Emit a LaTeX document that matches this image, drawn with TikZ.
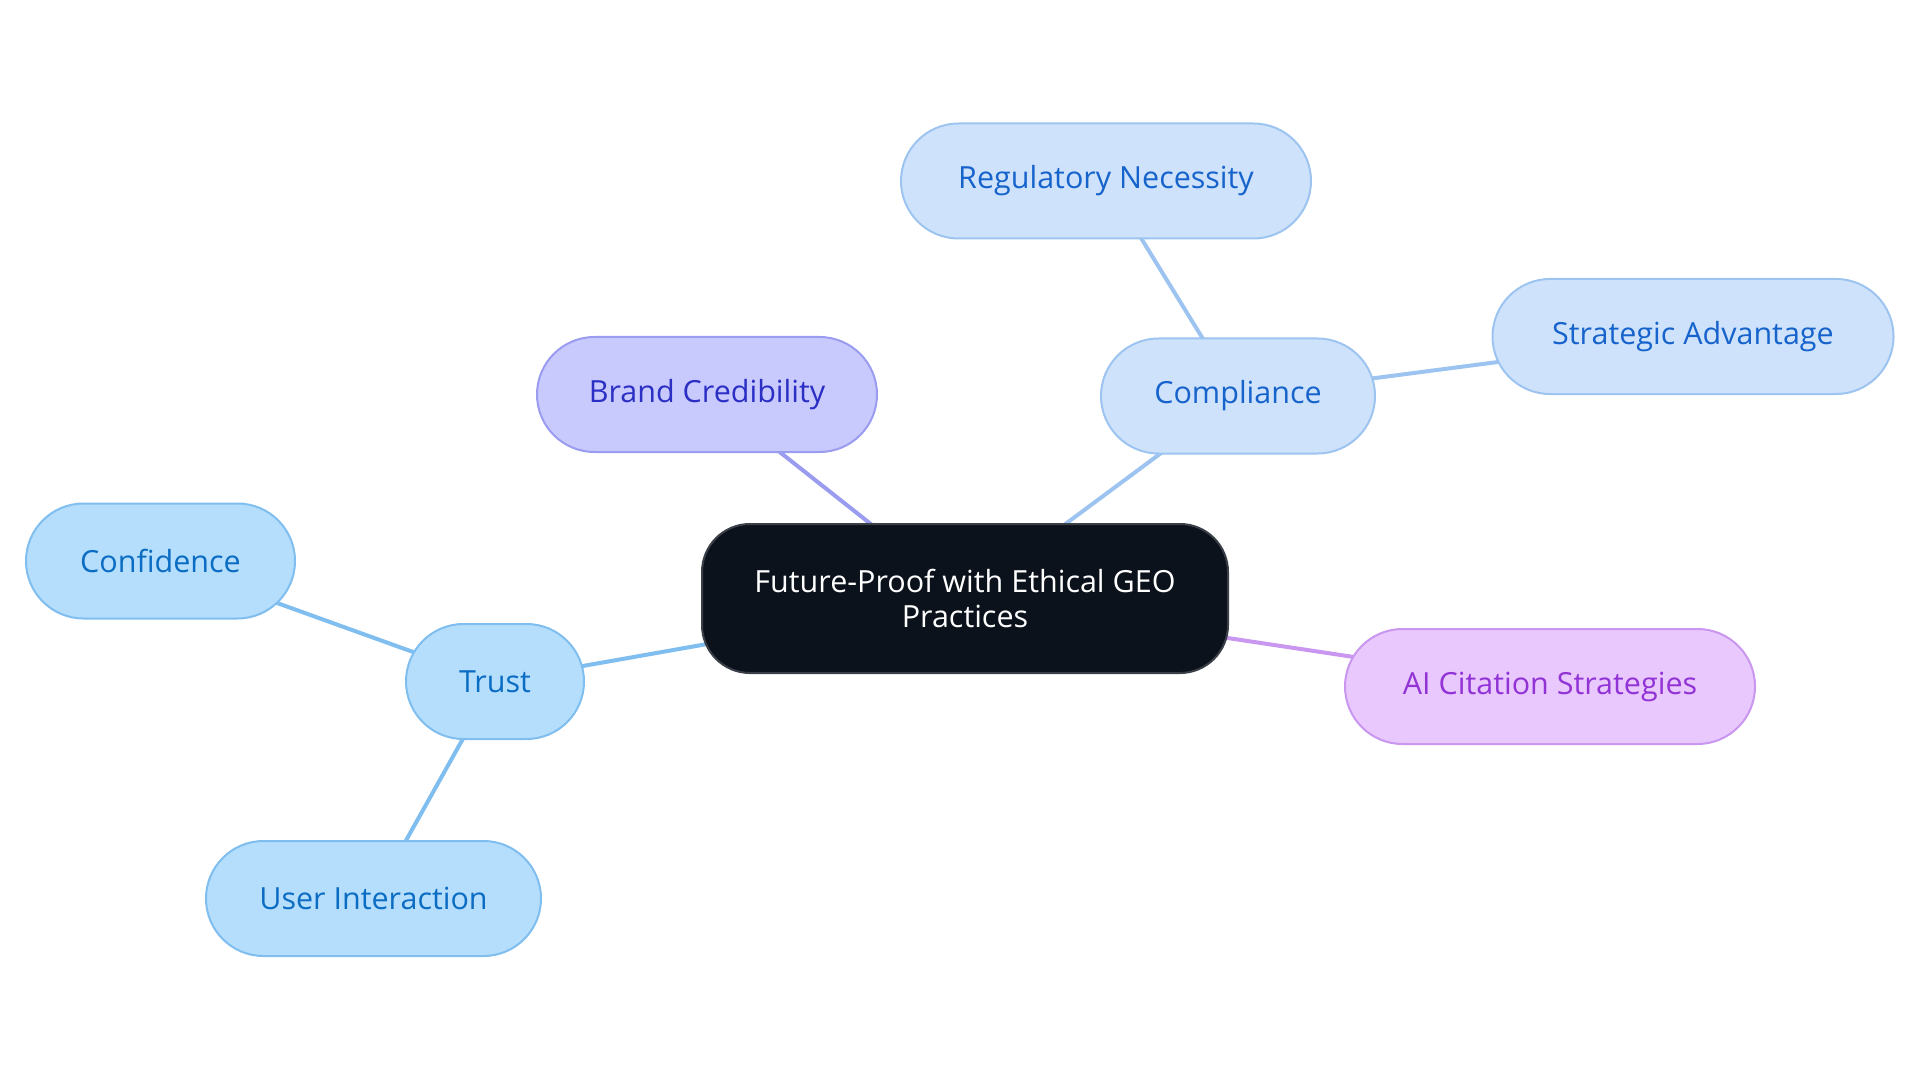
\documentclass[tikz,border=0pt]{standalone}
\usepackage{fontspec}
\setmainfont{Open Sans}
\usetikzlibrary{shapes.misc}
\definecolor{ctrfill}{HTML}{0C121C}
\definecolor{ctrline}{HTML}{3B4048}
\definecolor{trfill}{HTML}{B4DEFC}
\definecolor{trline}{HTML}{7FBEEF}
\definecolor{trtext}{HTML}{0A6CC2}
\definecolor{cofill}{HTML}{CEE3FB}
\definecolor{coline}{HTML}{9DC4F0}
\definecolor{cotext}{HTML}{1763CC}
\definecolor{brfill}{HTML}{C8C9FD}
\definecolor{brline}{HTML}{9A9CF0}
\definecolor{brtext}{HTML}{2B2FC4}
\definecolor{aifill}{HTML}{E8C8FD}
\definecolor{ailine}{HTML}{C996F0}
\definecolor{aitext}{HTML}{9233D6}
\pgfdeclarelayer{bg}
\pgfsetlayers{bg,main}
\begin{document}
\begin{tikzpicture}[x=1pt,y=-1pt,
  leaf/.style={rounded rectangle, minimum height=115pt, inner sep=0pt, line width=2pt,
    font=\fontsize{30.5}{35}\selectfont},
  trustbox/.style={leaf, fill=trfill, draw=trline, text=trtext},
  compbox/.style={leaf, fill=cofill, draw=coline, text=cotext},
  brandbox/.style={leaf, fill=brfill, draw=brline, text=brtext},
  aibox/.style={leaf, fill=aifill, draw=ailine, text=aitext},
  centerbox/.style={rectangle, rounded corners=48pt, minimum width=526pt, minimum height=149pt,
    fill=ctrfill, draw=ctrline, line width=2pt, text=white, align=center,
    font=\fontsize{30.5}{35}\selectfont},
  link/.style={line width=4pt}
]
\useasboundingbox (0,0) rectangle (1920,1083);
\node[centerbox] (ctr) at (965,598.5) {Future-Proof with Ethical GEO\\Practices};
\node[brandbox, minimum width=340pt] (brand) at (707,394.5) {Brand Credibility};
\node[compbox, minimum width=274pt] (comp) at (1238,396) {Compliance};
\node[compbox, minimum width=410pt] (reg) at (1106,181) {Regulatory Necessity};
\node[compbox, minimum width=401pt] (strat) at (1693,336.5) {Strategic Advantage};
\node[aibox, minimum width=410pt] (ai) at (1550,686.5) {AI Citation Strategies};
\node[trustbox, minimum width=178pt] (trust) at (495,681.5) {Trust};
\node[trustbox, minimum width=269pt] (conf) at (160.5,561) {Confidence};
\node[trustbox, minimum width=335pt] (user) at (373.5,898.5) {User Interaction};
\begin{pgfonlayer}{bg}
\draw[link, draw=brline] (ctr.center) -- (brand.center);
\draw[link, draw=coline] (ctr.center) -- (comp.center);
\draw[link, draw=coline] (comp.center) -- (reg.center);
\draw[link, draw=coline] (comp.center) -- (strat.center);
\draw[link, draw=ailine] (ctr.center) -- (ai.center);
\draw[link, draw=trline] (ctr.center) -- (trust.center);
\draw[link, draw=trline] (trust.center) -- (conf.center);
\draw[link, draw=trline] (trust.center) -- (user.center);
\end{pgfonlayer}
\end{tikzpicture}
\end{document}
